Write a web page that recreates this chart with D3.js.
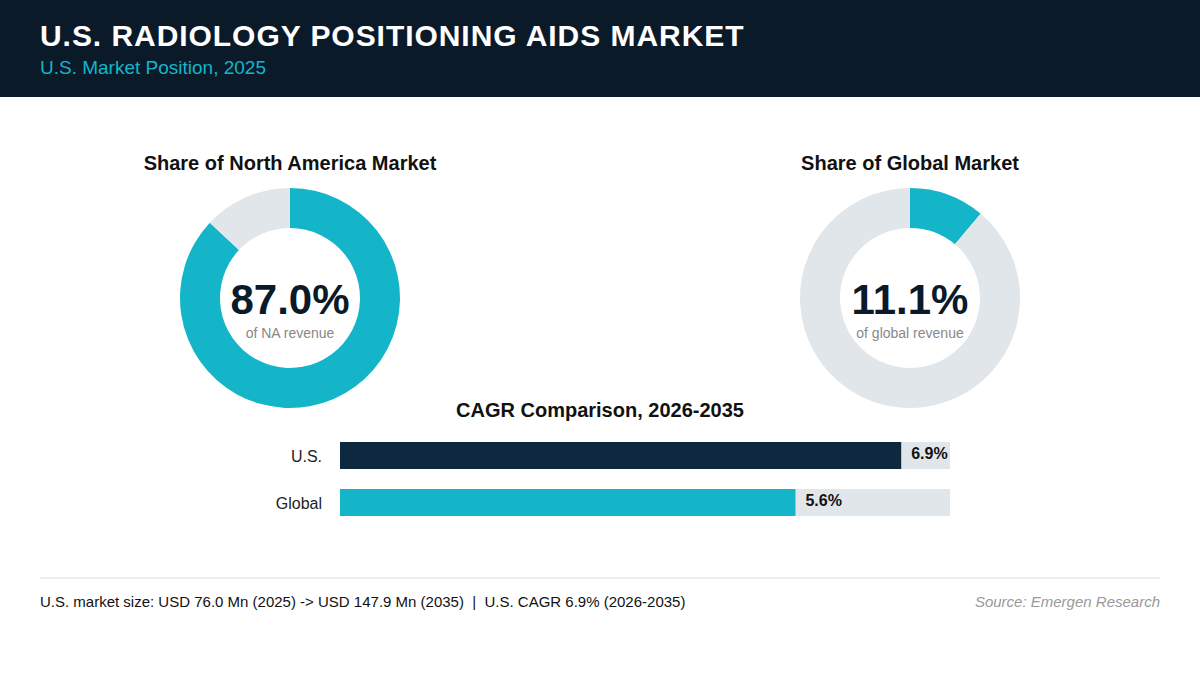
<!DOCTYPE html>
<html><head><meta charset="utf-8">
<script src="https://cdn.jsdelivr.net/npm/d3@7"></script>
<style>body{margin:0;background:#fff;font-family:"Liberation Sans",Arial,sans-serif}</style>
</head><body><svg id="c" width="1200" height="675"></svg>
<script>
const donutTitles = ["Share of North America Market", "Share of Global Market"];
const donutValues = [87.0, 11.1];
const donutLabels = ["of NA revenue", "of global revenue"];
const barCategories = ["U.S.", "Global"];
const barValues = [6.9, 5.6];
const barMax = 7.5;

const svg = d3.select("#c");
const teal = "#14b5c9", grey = "#e1e6ea", navy = "#0e2840";
svg.append("rect").attr("width",1200).attr("height",97).attr("fill","#0b1a29");
svg.append("text").attr("x",40).attr("y",46).attr("fill","#fff").attr("font-size",30).attr("font-weight","bold").attr("letter-spacing",0.95).text("U.S. RADIOLOGY POSITIONING AIDS MARKET");
svg.append("text").attr("x",40).attr("y",74).attr("fill",teal).attr("font-size",19).text("U.S. Market Position, 2025");

const centers = [290, 910];
const arc = d3.arc().innerRadius(70).outerRadius(110);
donutValues.forEach((v,i)=>{
  const g = svg.append("g").attr("transform",`translate(${centers[i]},298)`);
  svg.append("text").attr("x",centers[i]).attr("y",170).attr("text-anchor","middle").attr("font-size",20).attr("font-weight","bold").attr("fill","#111").text(donutTitles[i]);
  const pie = d3.pie().sort(null)([v,100-v]);
  g.selectAll("path").data(pie).join("path").attr("d",arc).attr("fill",(d,j)=>j?grey:teal);
  g.append("text").attr("y",16).attr("text-anchor","middle").attr("font-size",42).attr("font-weight","bold").attr("fill","#0b1a29").text(v.toFixed(1)+"%");
  g.append("text").attr("y",40).attr("text-anchor","middle").attr("font-size",14).attr("fill","#888").text(donutLabels[i]);
});

svg.append("text").attr("x",600).attr("y",417).attr("text-anchor","middle").attr("font-size",20).attr("font-weight","bold").attr("fill","#111").text("CAGR Comparison, 2026-2035");
const x = d3.scaleLinear().domain([0,barMax]).range([340,950]);
const y = d3.scaleBand().domain(barCategories).range([442,516]).paddingInner(20/47).paddingOuter(0);
barCategories.forEach((c,i)=>{
  svg.append("rect").attr("x",x(0)).attr("y",y(c)).attr("width",x(barMax)-x(0)).attr("height",y.bandwidth()).attr("fill",grey);
  svg.append("rect").attr("x",x(0)).attr("y",y(c)).attr("width",x(barValues[i])-x(0)).attr("height",y.bandwidth()).attr("fill",i?teal:navy);
  svg.append("text").attr("x",322).attr("y",y(c)+y.bandwidth()/2+6).attr("text-anchor","end").attr("font-size",16).attr("fill","#222").text(c);
  svg.append("text").attr("x",x(barValues[i])+10).attr("y",y(c)+y.bandwidth()/2+3).attr("font-size",16).attr("font-weight","bold").attr("fill","#111").text(barValues[i].toFixed(1)+"%");
});

svg.append("line").attr("x1",40).attr("x2",1160).attr("y1",578).attr("y2",578).attr("stroke","#ddd");
svg.append("text").attr("x",40).attr("y",607).attr("font-size",15).attr("fill","#111").attr("xml:space","preserve").style("white-space","pre").text("U.S. market size: USD 76.0 Mn (2025) -> USD 147.9 Mn (2035)  |  U.S. CAGR 6.9% (2026-2035)");
svg.append("text").attr("x",1160).attr("y",607).attr("text-anchor","end").attr("font-size",15).attr("font-style","italic").attr("fill","#999").text("Source: Emergen Research");
</script></body></html>
